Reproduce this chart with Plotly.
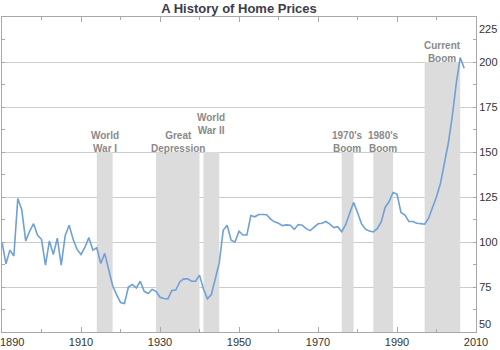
import plotly.graph_objects as go

years = list(range(1890, 2008))
prices = [
    100.0, 87.9, 95.5, 92.2, 124.2, 117.9, 100.6, 106.0, 110.2, 103.7,
    101.5, 87.2, 100.6, 93.1, 102.1, 87.2, 103.7, 109.3, 101.5, 95.9,
    93.1, 97.2, 102.4, 95.5, 96.8, 88.1, 93.7, 85.1, 75.8, 70.8,
    66.4, 65.8, 75.0, 76.4, 74.5, 78.2, 72.6, 71.4, 73.6, 72.6,
    69.3, 68.6, 68.4, 73.1, 73.3, 77.8, 79.5, 79.5, 78.2, 78.2,
    81.6, 73.9, 68.4, 70.8, 80.1, 88.4, 106.5, 109.3, 101.0, 100.0,
    106.0, 103.9, 103.9, 114.7, 114.0, 115.3, 115.3, 115.1, 112.7, 111.2,
    110.4, 109.1, 109.5, 109.3, 107.1, 109.7, 109.3, 107.4, 106.3, 108.4,
    110.1, 110.4, 111.4, 109.9, 108.0, 108.5, 105.7, 109.6, 116.0, 122.0,
    116.4, 110.2, 107.1, 106.1, 105.6, 107.4, 111.2, 119.2, 122.5, 127.5,
    126.6, 116.4, 114.9, 111.4, 111.4, 110.4, 110.2, 109.9, 113.2, 118.6,
    125.1, 132.5, 143.0, 155.0, 170.0, 188.0, 202.5, 196.5,
]

band_start = [1914, 1929, 1941, 1976, 1984, 1997]
band_end = [1918, 1940, 1945, 1979, 1989, 2006]
band_top = [150, 150, 150, 150, 150, 200]
band_labels = ["World<br>War I", "Great<br>Depression", "World<br>War II",
               "1970's<br>Boom", "1980's<br>Boom", "Current<br>Boom"]
band_label_raise = [0, 0, 18, 0, 0, 0]

x_major = [1890, 1910, 1930, 1950, 1970, 1990, 2010]
x_major_text = ["", "1910", "1930", "1950", "1970", "1990", "2010"]
y_major = [50, 75, 100, 125, 150, 175, 200, 225]
y_major_text = ["", "75", "100", "125", "150", "175", "200", ""]

AX = "#a8a8a8"
TICKFONT = dict(family="Liberation Sans Narrow, Liberation Sans, Arial", size=11, color="#333333")

fig = go.Figure()
fig.add_trace(go.Scatter(x=years, y=prices, mode="lines",
                         line=dict(color="#6fa0d6", width=1.6), showlegend=False))

shapes = []
annotations = []
for s, e, t, lab, r in zip(band_start, band_end, band_top, band_labels, band_label_raise):
    shapes.append(dict(type="rect", xref="x", yref="y", x0=s, x1=e, y0=50, y1=t,
                       fillcolor="#dcdcdc", line=dict(width=0), layer="between"))
    annotations.append(dict(x=(s + e) / 2, y=t, xref="x", yref="y", text=lab,
                            showarrow=False, yanchor="bottom", yshift=r - 4,
                            font=dict(family="Liberation Sans", size=10, color="#8a8a8a",
                                      weight="bold")))

# edge labels, pulled inward as in the reference
annotations.append(dict(x=1, y=225, xref="paper", yref="y", text="225", showarrow=False,
                        xanchor="left", yanchor="top", xshift=1, yshift=-4, font=TICKFONT))
annotations.append(dict(x=1, y=50, xref="paper", yref="y", text="50", showarrow=False,
                        xanchor="left", yanchor="bottom", xshift=1, yshift=0, font=TICKFONT))
annotations.append(dict(x=1890, y=0, xref="x", yref="paper", text="1890", showarrow=False,
                        xanchor="left", yanchor="top", xshift=-4, yshift=-2, font=TICKFONT))

fig.update_layout(
    width=500, height=350,
    margin=dict(l=2, r=24, t=17, b=18),
    paper_bgcolor="white", plot_bgcolor="white",
    title=dict(text="A History of Home Prices", x=0.478, xanchor="center",
               y=1 - 8.5 / 350, yanchor="middle", yref="container",
               font=dict(family="Liberation Sans", size=13, color="#3c3c4c", weight="bold")),
    shapes=shapes, annotations=annotations,
    xaxis=dict(range=[1890, 2010], tickmode="array", tickvals=x_major, ticktext=x_major_text,
               ticks="inside", ticklen=5,
               tickcolor=AX, showline=True, linecolor=AX, linewidth=1, mirror="allticks",
               showgrid=False, zeroline=False, tickfont=TICKFONT, ticklabeloverflow="allow",
               minor=dict(tick0=1890, dtick=10, ticks="inside", ticklen=3, tickcolor=AX,
                          showgrid=False)),
    yaxis=dict(range=[50, 225], side="right", tickmode="array", tickvals=y_major,
               ticktext=y_major_text, ticks="inside", ticklen=3, tickcolor=AX,
               showline=True, linecolor=AX, linewidth=1, mirror="allticks",
               showgrid=True, gridcolor="#cccccc", gridwidth=1, zeroline=False,
               tickfont=TICKFONT,
               minor=dict(tick0=50, dtick=12.5, ticks="inside", ticklen=3, tickcolor=AX,
                          showgrid=False)),
)

fig.write_html("out.html")
